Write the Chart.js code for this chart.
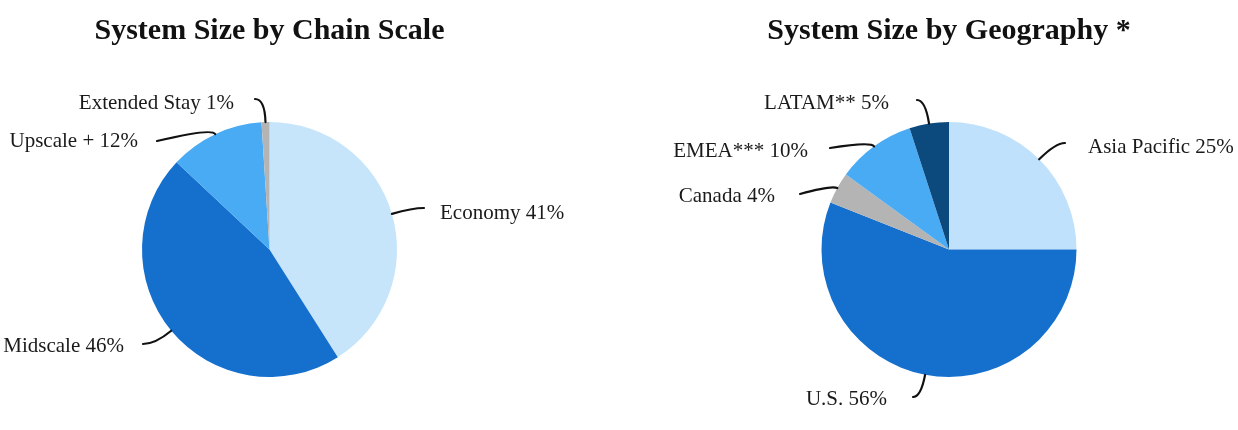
<!DOCTYPE html>
<html>
<head>
<meta charset="utf-8">
<script src="https://cdn.jsdelivr.net/npm/chart.js@4"></script>
<style>
  html, body { margin: 0; padding: 0; background: #fff; }
  .wrap { display: flex; width: 1238px; height: 430px; }
  .box { position: relative; width: 619px; height: 430px; }
</style>
</head>
<body>
<div class="wrap">
  <div class="box"><canvas id="chainChart"></canvas></div>
  <div class="box"><canvas id="geoChart"></canvas></div>
</div>
<script>
// --- data ---
const chainLabels = ['Economy', 'Midscale', 'Upscale +', 'Extended Stay'];
const chainValues = [41, 46, 12, 1];
const geoLabels = ['Asia Pacific', 'U.S.', 'Canada', 'EMEA***', 'LATAM**'];
const geoValues = [25, 56, 4, 10, 5];

const chainColors = ['#c6e5fb', '#1570cd', '#4aabf5', '#b4b4b4'];
const geoColors = ['#bfe1fb', '#1570cd', '#b4b4b4', '#4aabf5', '#0c4a7e'];

// label placement (canvas-local px): text x/y, alignment, leader end point, hook length
const chainPlace = [
    { tx: 440, ty: 213, align: 'left',  ex: 424, ey: 208 },
    { tx: 124, ty: 346, align: 'right', ex: 143, ey: 344 },
    { tx: 138, ty: 141, align: 'right', ex: 157, ey: 141, hook: 7 },
    { tx: 234, ty: 103, align: 'right', ex: 255, ey: 99 }
];
const geoPlace = [
    { tx: 469, ty: 147, align: 'left',  ex: 446, ey: 143 },
    { tx: 268, ty: 399, align: 'right', ex: 294, ey: 397 },
    { tx: 156, ty: 196, align: 'right', ex: 181, ey: 194, hook: 6 },
    { tx: 189, ty: 151, align: 'right', ex: 211, ey: 148, hook: 6 },
    { tx: 270, ty: 103, align: 'right', ex: 298, ey: 100 }
];

const serif = "'Liberation Serif', 'Times New Roman', serif";

// draws the titles and the curved leader labels
const calloutPlugin = {
    id: 'callouts',
    afterDatasetsDraw(chart, args, opts) {
        const ctx = chart.ctx;
        const area = chart.chartArea;
        ctx.save();
        ctx.fillStyle = '#111';
        ctx.font = 'bold 30px ' + serif;
        ctx.textAlign = 'center';
        ctx.textBaseline = 'middle';
        ctx.fillText(opts.title, (area.left + area.right) / 2, 31);

        const meta = chart.getDatasetMeta(0);
        const labels = chart.data.labels;
        const values = chart.data.datasets[0].data;
        ctx.font = '21px ' + serif;
        ctx.strokeStyle = '#111';
        ctx.lineWidth = 2.2;
        ctx.lineCap = 'round';
        meta.data.forEach(function (arc, i) {
            const p = opts.place[i];
            const mid = (arc.startAngle + arc.endAngle) / 2;
            const ux = Math.cos(mid), uy = Math.sin(mid);
            const sx = arc.x + ux * arc.outerRadius;
            const sy = arc.y + uy * arc.outerRadius;
            let cx, cy;
            if (p.hook) {
                cx = sx + ux * p.hook;
                cy = sy + uy * p.hook;
            } else {
                // radial line meets the horizontal through the end point
                const t = Math.abs(uy) > 0.05 ? (p.ey - sy) / uy : 15;
                cx = sx + ux * t;
                cy = sy + uy * t;
            }
            ctx.beginPath();
            ctx.moveTo(sx, sy);
            ctx.quadraticCurveTo(cx, cy, p.ex, p.ey);
            ctx.stroke();

            ctx.textAlign = p.align;
            ctx.fillStyle = '#1a1a1a';
            ctx.fillText(labels[i] + ' ' + values[i] + '%', p.tx, p.ty);
        });
        ctx.restore();
    }
};

function makePie(id, labels, values, colors, title, place, padLeft, padRight) {
    const ctx = document.getElementById(id).getContext('2d');
    return new Chart(ctx, {
        type: 'pie',
        data: {
            labels: labels,
            datasets: [{
                data: values,
                backgroundColor: colors,
                borderWidth: 0
            }]
        },
        options: {
            responsive: true,
            maintainAspectRatio: false,
            animation: false,
            layout: {
                padding: { left: padLeft, right: padRight, top: 122, bottom: 53 }
            },
            plugins: {
                legend: { display: false },
                tooltip: { enabled: false },
                callouts: { title: title, place: place }
            }
        },
        plugins: [calloutPlugin]
    });
}

makePie('chainChart', chainLabels, chainValues, chainColors,
    'System Size by Chain Scale', chainPlace, 142, 222);
makePie('geoChart', geoLabels, geoValues, geoColors,
    'System Size by Geography *', geoPlace, 202, 161);
</script>
</body>
</html>
